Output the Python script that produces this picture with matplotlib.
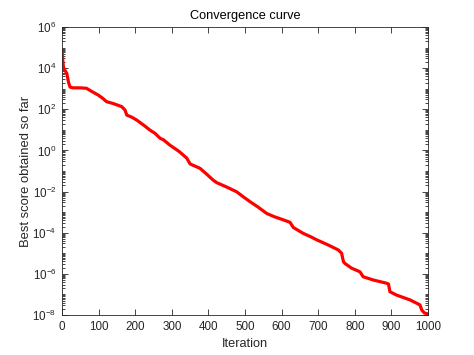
import matplotlib
matplotlib.use("Agg")
import matplotlib.pyplot as plt
from matplotlib.ticker import LogLocator, FixedLocator, NullFormatter, LogFormatterSciNotation

plt.rcParams['font.family'] = ['Liberation Sans', 'DejaVu Sans']

iterations = [0, 2, 4, 8, 13, 18, 22, 30, 50, 67, 80, 99, 110, 122, 140, 163, 172, 177,
              190, 204, 225, 240, 254, 268, 277, 295, 320, 341, 350, 377, 395, 413, 423,
              450, 477, 495, 514, 535, 559, 580, 605, 623, 632, 659, 680, 696, 728, 755,
              764, 769, 773, 791, 814, 823, 851, 887, 892, 896, 914, 951, 978, 983, 990, 1000]
best_score = [7.1e4, 2.5e4, 1.1e4, 7.9e3, 5.6e3, 2.0e3, 1.2e3, 1.1e3, 1.1e3, 1.05e3, 760, 490,
              355, 234, 190, 135, 93, 52, 42, 30, 16, 9.8, 6.8, 3.9, 3.3, 1.8, 0.89, 0.42,
              0.22, 0.135, 0.071, 0.036, 0.027, 0.0166, 9.8e-3, 5.6e-3, 3.2e-3, 1.8e-3,
              8.7e-4, 6.0e-4, 4.2e-4, 3.2e-4, 1.8e-4, 9.3e-5, 6.3e-5, 4.5e-5, 2.5e-5,
              1.45e-5, 1.0e-5, 3.9e-6, 3.2e-6, 1.9e-6, 1.26e-6, 7.2e-7, 5.0e-7, 3.5e-7,
              3.2e-7, 1.35e-7, 9.3e-8, 5.4e-8, 3.1e-8, 1.74e-8, 1.26e-8, 1.12e-8]

x_ticks = [0, 100, 200, 300, 400, 500, 600, 700, 800, 900, 1000]
y_ticks = [1e-8, 1e-6, 1e-4, 1e-2, 1e0, 1e2, 1e4, 1e6]

fig = plt.figure(figsize=(4.74, 3.55), dpi=100)
ax = fig.add_axes([62/474, 40/355, 366/474, 288/355])
ax.plot(iterations, best_score, color='#ff0000', linewidth=2.3, solid_joinstyle='round')
ax.set_yscale('log')
ax.set_xlim(0, 1000)
ax.set_ylim(1e-8, 1e6)
ax.set_xticks(x_ticks)
ax.yaxis.set_major_locator(FixedLocator(y_ticks))
ax.yaxis.set_major_formatter(LogFormatterSciNotation())
ax.yaxis.set_minor_locator(LogLocator(base=10, subs=[2, 3, 4, 5, 6, 7, 8, 9, 10], numticks=30))
ax.yaxis.set_minor_formatter(NullFormatter())

grey = '#262626'
ax.tick_params(which='both', direction='in', top=True, right=True, colors=grey,
               labelsize=8.4, width=0.6)
ax.tick_params(which='major', length=4, pad=4)
ax.tick_params(which='minor', length=2)
for s in ax.spines.values():
    s.set_color(grey)
    s.set_linewidth(0.6)

ax.set_title('Convergence curve', fontsize=9.2, color='#000000', pad=5.5)
ax.set_xlabel('Iteration', fontsize=9.2, color=grey)
ax.set_ylabel('Best score obtained so far', fontsize=9.4, color=grey)
ax.xaxis.set_label_coords(0.5, -0.079)
ax.yaxis.set_label_coords(-0.081, 0.5)

fig.savefig('out.png', dpi=100)
